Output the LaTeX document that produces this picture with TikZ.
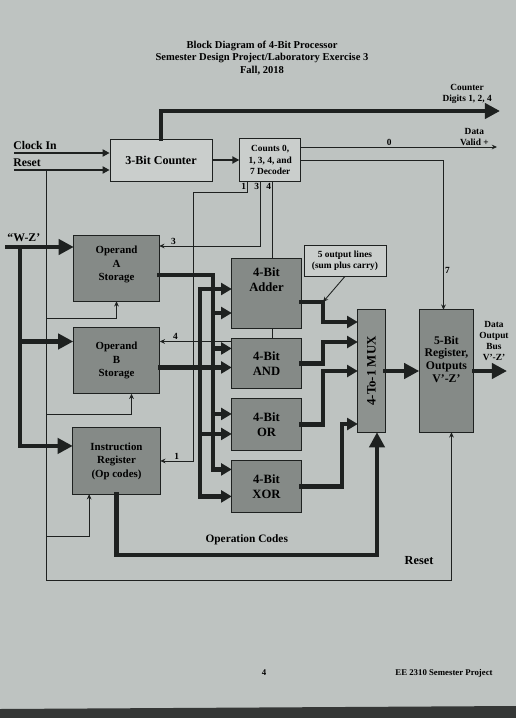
\documentclass[tikz,border=0pt]{standalone}
\usepackage{fontspec}
\setmainfont{Liberation Serif}
\usepackage{graphicx}
\usepackage{tikz}
\usetikzlibrary{arrows.meta, positioning, calc, backgrounds}
\definecolor{ink}{HTML}{1E2120}
\definecolor{paper}{HTML}{BEC3C1}
\definecolor{boxgrey}{HTML}{858A87}
\definecolor{boxlight}{HTML}{CACECC}
\definecolor{muxgrey}{HTML}{8D928F}

\begin{document}
\begin{tikzpicture}[
  x=0.03cm, y=-0.03cm,
  node distance=0.3cm,
  blk/.style={align=center, text=black, font=\bfseries\fontsize{9.3}{11.5}\selectfont},
  gate/.style={blk, minimum width=2.07cm, font=\bfseries\fontsize{10.8}{12.5}\selectfont},
  face/.style={draw=ink, fill=boxgrey, line width=0.6pt},
  lbox/.style={draw=ink, fill=boxlight, line width=0.6pt, align=center, text=black},
  lbl/.style={font=\bfseries\fontsize{8}{9.5}\selectfont, text=black, align=center, inner sep=1pt},
  sig/.style={-{Stealth[length=4.5pt, width=4pt]}, draw=ink, line width=0.75pt},
  feed/.style={-{Triangle[length=6pt, width=6pt]}, draw=ink, line width=2pt},
  bus/.style={draw=ink, line width=3.6pt, line cap=rect},
  busarr/.style={bus, -{Triangle[length=9pt, width=10pt]}},
  bigarr/.style={bus, -{Triangle[length=13pt, width=13pt]}}
]
  \useasboundingbox (0,0) rectangle (516,718);

  % Title
  \node[lbl, font=\bfseries\fontsize{9}{11}\selectfont] (title) at (262,58)
    {Block Diagram of 4-Bit Processor\\Semester Design Project/Laboratory Exercise 3\\Fall, 2018};

  % Counter and decoder
  \node[lbox, minimum width=3.06cm, minimum height=1.26cm,
        font=\bfseries\fontsize{10.3}{12}\selectfont] (counter) at (161,160) {3-Bit Counter};
  \node[lbox, minimum width=1.83cm, minimum height=1.29cm, right=0.81cm of counter,
        inner sep=1pt, font=\bfseries\fontsize{8}{10}\selectfont] (decoder)
    {Counts 0,\\1, 3, 4, and\\7 Decoder};

  % Storage
  \node[blk, minimum width=2.55cm, minimum height=1.95cm, text depth=9pt] (opA) at (116.5,268.5) {Operand\\A\\Storage};
  \node[blk, minimum width=2.58cm, minimum height=1.98cm, below=0.78cm of opA] (opB) {Operand\\B\\Storage};
  \node[blk, minimum width=2.61cm, minimum height=1.98cm, below=1.02cm of opB] (ireg) {Instruction\\Register\\(Op codes)};

  % ALU blocks
  \node[gate, minimum height=2.07cm, text depth=24pt] (adder) at (266.5,293.5) {4-Bit\\Adder};
  \node[gate, minimum height=1.5cm, below=of adder] (andg) {4-Bit\\AND};
  \node[gate, minimum height=1.53cm, below=of andg] (org) {4-Bit\\OR};
  \node[gate, minimum height=1.56cm, below=of org] (xorg) {4-Bit\\XOR};

  \node[lbox, minimum width=2.46cm, minimum height=0.93cm, inner sep=1pt,
        font=\bfseries\fontsize{8}{9.4}\selectfont] (note) at (345,260.5)
    {5 output lines\\(sum plus carry)};

  % MUX and register
  \node[blk, minimum width=0.81cm, minimum height=3.66cm,
        font=\bfseries\fontsize{11}{13}\selectfont] (mux) at (371.5,371) {\rotatebox{90}{4-To-1 MUX}};
  \node[blk, minimum width=1.62cm, minimum height=3.66cm, right=1.02cm of mux, text depth=20pt,
        font=\bfseries\fontsize{10}{11}\selectfont] (reg) {5-Bit\\Register,\\Outputs\\V'-Z'};

  % Side texts
  \node[lbl, anchor=west, font=\bfseries\fontsize{10}{12}\selectfont] (clk) at (12,145) {Clock In};
  \node[lbl, anchor=west, font=\bfseries\fontsize{10}{12}\selectfont] (rst) at (12,163) {Reset};
  \node[lbl, anchor=west, font=\bfseries\fontsize{10}{12}\selectfont] (wz) at (6,238) {``W-Z'};

  % Footer
  \node[lbl, font=\bfseries\fontsize{7.5}{9}\selectfont] (pgno) at (264,673) {4};
  \node[lbl, font=\bfseries\fontsize{7.5}{9}\selectfont] (foot) at (444,673) {EE 2310 Semester Project};

  % Free ends and bus positions
  \coordinate (clkin) at (14,153);
  \coordinate (rstin) at (14,170);
  \coordinate (rstbus) at (46,170);
  \coordinate (rstlow) at (46,580);
  \coordinate (rA) at (46,318);
  \coordinate (rB) at (46,414);
  \coordinate (rI) at (46,536);
  \coordinate (cntout) at (500,111);
  \coordinate (dvalid) at (497,147);
  \coordinate (d1) at (193,192);
  \coordinate (wzin) at (7,247);
  \coordinate (wzbus) at (20,247);
  \coordinate (abus) at (213,275);
  \coordinate (bbus) at (200,289);
  \coordinate (mcol) at (323,300);
  \coordinate (mcolb) at (342,480);
  \coordinate (opc) at (115,555);
  \coordinate (dout) at (507,371);

  % Gate inputs
  \coordinate (adB) at ([yshift=0.135cm]adder.west);
  \coordinate (adA) at ([yshift=-0.585cm]adder.west);
  \coordinate (anA) at ([yshift=0.45cm]andg.west);
  \coordinate (anB) at ([yshift=-0.12cm]andg.west);
  \coordinate (orA) at ([yshift=0.315cm]org.west);
  \coordinate (orB) at ([yshift=-0.285cm]org.west);
  \coordinate (xoA) at ([yshift=0.51cm]xorg.west);
  \coordinate (xoB) at ([yshift=-0.3cm]xorg.west);

  % MUX inputs
  \coordinate (mx1) at ([yshift=1.47cm]mux.west);
  \coordinate (mx2) at ([yshift=0.87cm]mux.west);
  \coordinate (mx3) at (mux.west);
  \coordinate (mx4) at ([yshift=-1.59cm]mux.west);
  \coordinate (adout) at ([yshift=-0.255cm]adder.east);

  % Counter
  \draw[feed] (clkin) -- (clkin -| counter.west);
  \draw[feed] (rstin) -- (rstin -| counter.west);
  \draw[feed] (counter) -- (decoder);
  \draw[bigarr] (counter.north) |- (cntout)
    node[lbl, anchor=south east, xshift=-0.15cm, yshift=0.12cm] {Counter\\Digits 1, 2, 4};

  % Decoder outputs
  \draw[sig] (dvalid -| decoder.east) -- node[lbl, above, pos=0.45] {0} (dvalid)
    node[lbl, anchor=south east, xshift=-0.2cm] {Data\\Valid +};
  \draw[sig] (decoder.east) -| node[lbl, right, pos=0.87] {7} ([xshift=-0.09cm]reg.north);
  \draw[sig] ([xshift=-0.675cm]decoder.south) node[lbl, anchor=north east] {1}
    |- (d1) |- node[lbl, above, pos=0.75] {1} (ireg.east);
  \draw[sig] ([xshift=-0.285cm]decoder.south) node[lbl, anchor=north east] {3}
    |- node[lbl, above, pos=0.93] {3} ([yshift=0.675cm]opA.east);

  % W-Z input bus
  \draw[bigarr] (wzin) -- (wzin -| opA.west);
  \draw[bigarr] (wzbus) |- ([yshift=0.57cm]opB.west);
  \draw[bigarr] (wzbus) |- ([yshift=0.45cm]ireg.west);

  % Reset lines
  \draw[sig] (rA) -| (opA.south);
  \draw[sig] (rB) -| ([xshift=0.45cm]opB.south);
  \draw[sig] (rI) -| ([xshift=-0.82cm]ireg.south);
  \draw[sig] (rstbus) -- (rstlow) -| node[lbl, pos=0.46, above=0.4cm,
    font=\bfseries\fontsize{10.5}{12}\selectfont] {Reset} ([xshift=0.15cm]reg.south);

  % Operand A to ALU
  \draw[busarr] (opA.east |- abus) -- (abus) |- (xoA);
  \draw[busarr] (abus |- adA) -- (adA);
  \draw[busarr] (abus |- anA) -- (anA);
  \draw[busarr] (abus |- orA) -- (orA);

  % Operand B to ALU
  \draw[busarr] (opB.east |- anB) -- (anB);
  \draw[busarr] (bbus |- xoB) -- (bbus |- adB) -- (adB);
  \draw[busarr] (bbus |- orB) -- (orB);
  \draw[busarr] (bbus |- xoB) -- (xoB);

  % ALU to MUX
  \draw[busarr] (adout) -| (mcol |- mx1) -- (mx1);
  \draw[busarr] (andg.east) -| (mcol |- mx2) -- (mx2);
  \draw[busarr] (org.east) -| (mcol |- mx3) -- (mx3);
  \draw[busarr] (xorg.east) -| (mcolb |- mx4) -- (mx4);
  \draw[sig] (note.south) -- (mcol |- adout);

  % MUX to register to output
  \draw[bigarr] (mux.east) -- (mux.east -| reg.west);
  \draw[bigarr] (reg.east |- dout) -- (dout)
    node[lbl, anchor=south, xshift=-0.39cm, yshift=0.22cm, font=\bfseries\fontsize{8}{9.4}\selectfont]
    {Data\\Output\\Bus\\V'-Z'};

  % Op codes
  \draw[bigarr] (ireg.south) -- (ireg.south |- opc) -| node[lbl, pos=0.25, above=0.2cm,
    font=\bfseries\fontsize{9.7}{11}\selectfont] {Operation Codes} ([xshift=0.165cm]mux.south);

  % Page and grey block faces
  \begin{scope}[on background layer]
    \fill[paper] (0,0) rectangle (516,718);
    \fill[ink!90] (0,709) -- (516,706) -- (516,718) -- (0,718) -- cycle;
    % decoder line 4 runs behind the adder
    \draw[sig] ([xshift=0.075cm]decoder.south) node[lbl, anchor=north east] {4}
      |- node[lbl, above, pos=0.93] {4} ([yshift=0.57cm]opB.east);
    \filldraw[face] (opA.south west) rectangle (opA.north east);
    \filldraw[face] (opB.south west) rectangle (opB.north east);
    \filldraw[face] (ireg.south west) rectangle (ireg.north east);
    \filldraw[face] (adder.south west) rectangle (adder.north east);
    \filldraw[face] (andg.south west) rectangle (andg.north east);
    \filldraw[face] (org.south west) rectangle (org.north east);
    \filldraw[face] (xorg.south west) rectangle (xorg.north east);
    \filldraw[face, fill=muxgrey] (mux.south west) rectangle (mux.north east);
    \filldraw[face] (reg.south west) rectangle (reg.north east);
  \end{scope}
\end{tikzpicture}
\end{document}
